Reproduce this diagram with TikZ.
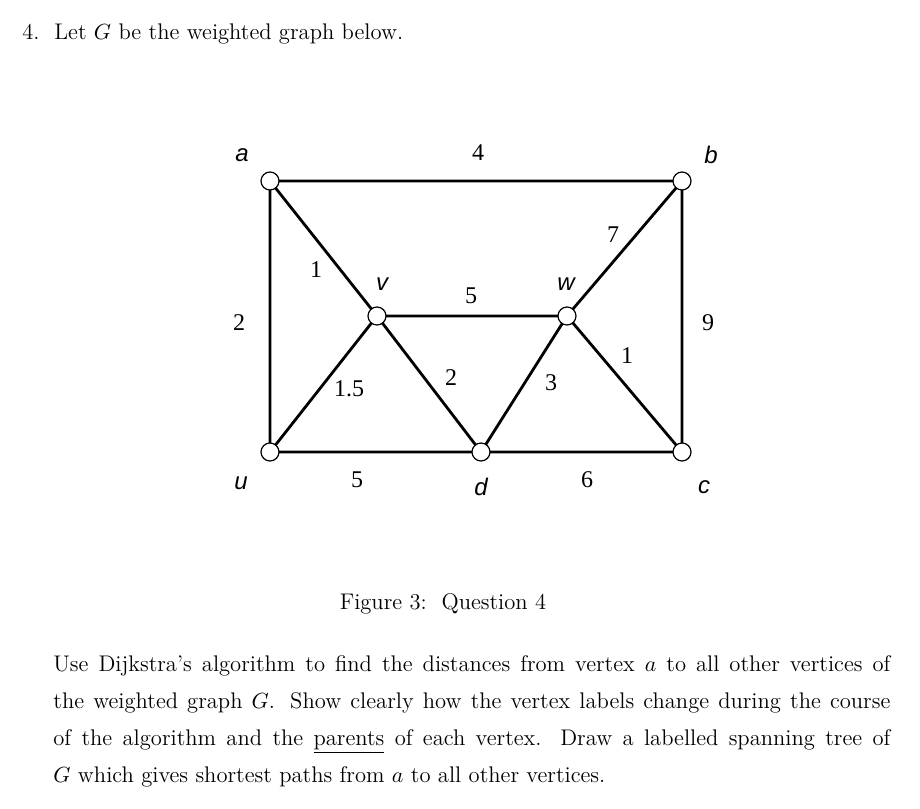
\documentclass[tikz,border=0pt]{standalone}
\usepackage{fontspec}
\newfontfamily\lab{Liberation Sans}
\newfontfamily\wt{Liberation Serif}
\begin{document}
\begin{tikzpicture}[x=0.5pt,y=-0.5pt,
  vtx/.style={circle,draw,fill=white,line width=0.6pt,minimum size=9pt,inner sep=0pt},
  edge/.style={line width=1.4pt},
  vl/.style={font=\lab\itshape\fontsize{12}{12}\selectfont},
  wl/.style={font=\wt\fontsize{12}{12}\selectfont}]
\useasboundingbox (0,0) rectangle (920,808);
\node[anchor=base west,inner sep=0pt,font=\fontsize{11.3}{12}\selectfont] (title) at (22,40) {4.\ \ Let $G$ be the weighted graph below.};
\coordinate (pa) at (270,181); \coordinate (pb) at (682,181);
\coordinate (pv) at (377,316); \coordinate (pw) at (567,316);
\coordinate (pu) at (270,452); \coordinate (pd) at (481,452);
\coordinate (pc) at (682,452);
\draw[edge] (pa)--(pb) (pa)--(pu) (pa)--(pv) (pb)--(pc) (pb)--(pw)
  (pv)--(pw) (pv)--(pu) (pv)--(pd) (pw)--(pd) (pw)--(pc) (pu)--(pd) (pd)--(pc);
\foreach \n in {a,b,v,w,u,d,c}{\node[vtx] (\n) at (p\n) {};}
\node[vl] (la) at (242,155) {a};
\node[vl] (lb) at (711,155) {b};
\node[vl] (lv) at (382,284) {v};
\node[vl] (lw) at (566,284) {w};
\node[vl] (lu) at (241,483) {u};
\node[vl] (ld) at (481,487) {d};
\node[vl] (lc) at (704,487) {c};
\node[wl] (e1) at (478,153) {4};
\node[wl] (e2) at (613,235) {7};
\node[wl] (e3) at (316,270) {1};
\node[wl] (e4) at (471,296) {5};
\node[wl] (e5) at (239,323) {2};
\node[wl] (e6) at (708,323) {9};
\node[wl] (e7) at (627,356) {1};
\node[wl] (e8) at (349,389) {1.5};
\node[wl] (e9) at (451,378) {2};
\node[wl] (e10) at (551,383) {3};
\node[wl] (e11) at (357,480) {5};
\node[wl] (e12) at (587,480) {6};
\node[font=\fontsize{11.3}{12}\selectfont] (cap) at (443,604) {Figure 3:\ \ Question 4};
\node[anchor=north west,inner sep=0pt,text width=418.5pt,align=justify,
  font=\fontsize{11.3}{18.5}\selectfont] (para) at (53,655)
 {Use Dijkstra's algorithm to find the distances from vertex $a$ to all other vertices of\linebreak
 the weighted graph $G$. Show clearly how the vertex labels change during the course\linebreak
 of the algorithm and the \underline{parents} of each vertex. Draw a labelled spanning tree of\linebreak
 $G$ which gives shortest paths from $a$ to all other vertices.};
\end{tikzpicture}
\end{document}
